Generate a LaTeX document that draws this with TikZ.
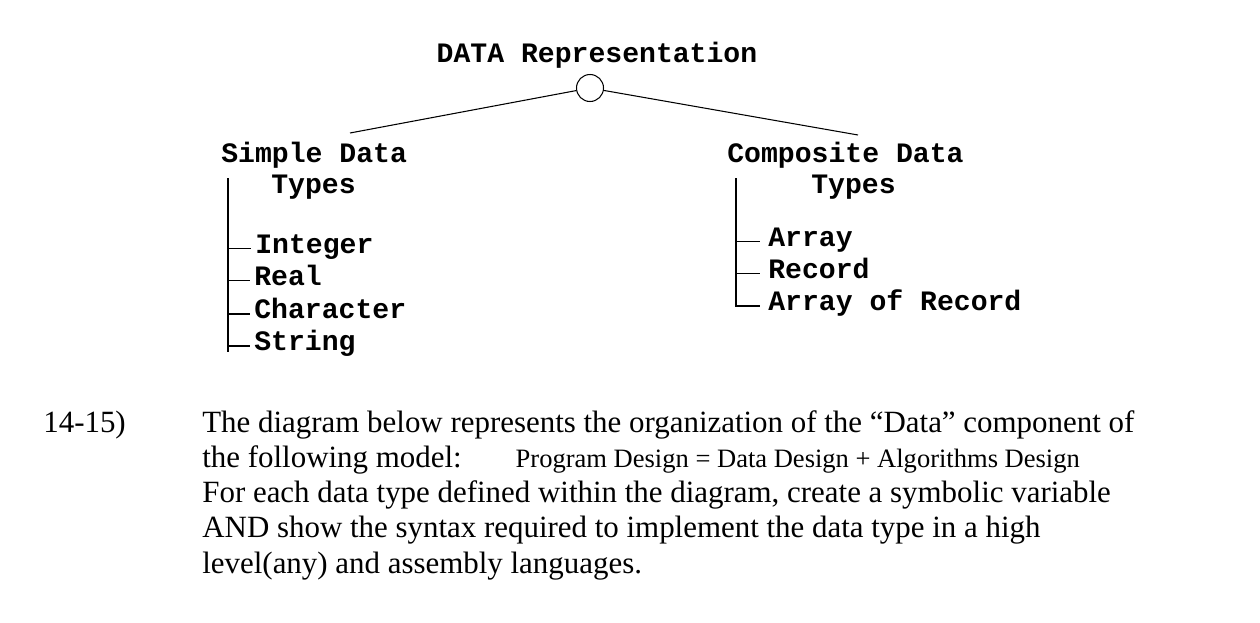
\documentclass[tikz,border=0pt]{standalone}
\usepackage{fontspec}
\setmainfont{Liberation Serif}
\newfontfamily\courierfont{Liberation Mono}
\usepackage{tikz}
\usetikzlibrary{positioning, calc}

\begin{document}
\begin{tikzpicture}[
            x=0.02cm, y=-0.02cm,
            mono/.style={inner sep=0pt, font=\courierfont\bfseries\fontsize{16}{19}\selectfont},
            item/.style={mono, anchor=base west},
            hub/.style={circle, draw, line width=0.6pt, minimum size=0.54cm, inner sep=0pt},
            link/.style={line width=0.6pt},
            tick/.style={line width=0.6pt, shorten >=0.08cm},
            para/.style={inner sep=0pt, align=left, font=\fontsize{17.6}{20}\selectfont}
        ]
            \useasboundingbox (0,0) rectangle (1260,622);

            % --- Root ---
            \node[mono, anchor=base] (title) at (597,62) {DATA Representation};
            \node[hub] (root) at (590,88) {};
            \coordinate (sjoin) at (350,133);
            \coordinate (cjoin) at (858,135);
            \draw[link] (sjoin) -- (root);
            \draw[link] (root) -- (cjoin);

            % --- Simple Data Types ---
            \node[item] (simple) at (221,162) {Simple Data};
            \node[item] (simpletypes) at (271,193) {Types};
            \coordinate (strunktop) at (228,178);
            \coordinate (strunkbot) at (228,352);
            \draw[link] (strunktop) -- (strunkbot);
            \node[item] (integer) at (255,253) {Integer};
            \node[item] (real) at (254,285) {Real};
            \node[item] (character) at (254,318) {Character};
            \node[item] (string) at (254,350) {String};
            \draw[tick] (strunktop |- integer.mid west) -- (integer.mid west);
            \draw[tick] (strunktop |- real.mid west) -- (real.mid west);
            \draw[tick] (strunktop |- character.mid west) -- (character.mid west);
            \draw[tick] (strunktop |- string.mid west) -- (string.mid west);

            % --- Composite Data Types ---
            \node[item] (composite) at (727,162) {Composite Data};
            \node[item] (comptypes) at (811,193) {Types};
            \coordinate (ctrunktop) at (736,178);
            \node[item] (array) at (768,246) {Array};
            \node[item] (record) at (768,278) {Record};
            \node[item] (arrayrec) at (768,310) {Array of Record};
            \draw[link] (ctrunktop) -- (ctrunktop |- arrayrec.mid west) -- ([xshift=-0.16cm]arrayrec.mid west);
            \draw[tick] (ctrunktop |- array.mid west) -- ([xshift=-0.08cm]array.mid west);
            \draw[tick] (ctrunktop |- record.mid west) -- ([xshift=-0.08cm]record.mid west);

            % --- Question text (base = last line) ---
            \node[para, anchor=base west] (qnum) at (43,432) {14-15)};
            \node[para, anchor=base west] (question) at (202,573) {The diagram below represents the organization of the ``Data'' component of\\
              the following model:\hspace{1.08cm}{\fontsize{15.1}{18}\selectfont Program Design = Data Design + Algorithms Design}\\
              For each data type defined within the diagram, create a symbolic variable\\
              AND show the syntax required to implement the data type in a high\\
              level(any) and assembly languages.};
        \end{tikzpicture}
\end{document}
